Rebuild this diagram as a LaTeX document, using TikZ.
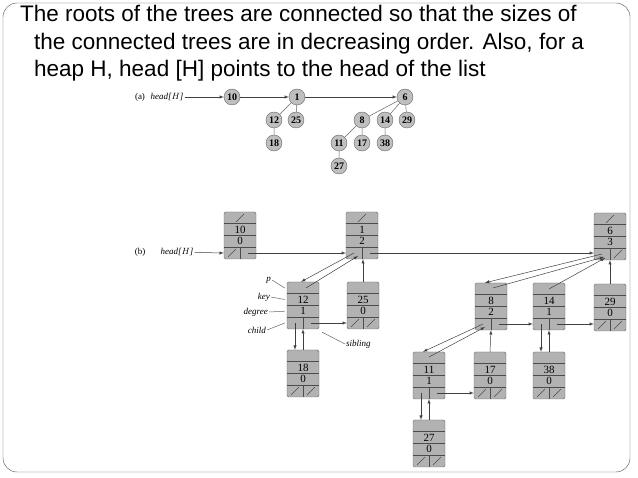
\documentclass[tikz,border=0pt]{standalone}
\usepackage{fontspec}
\setmainfont{Liberation Sans}
\newfontfamily\figfont{Liberation Serif}
\usetikzlibrary{arrows}

% one list cell: name, x, top, key, degree
\newcommand{\bnode}[5]{%
  \node[cell] (#1) at (#2,#3+23.5) {};
  \draw[cellline] (#2-16,#3+11.5) -- +(32,0) (#2-16,#3+23.5) -- +(32,0)
    (#2-16,#3+35) -- +(32,0) (#2,#3+35) -- (#2,#3+47);
  \node[val] (#1k) at (#2,#3+17.5) {#4};
  \node[val] (#1d) at (#2,#3+29.2) {#5};
  \coordinate (#1p) at (#2,#3+6);
  \coordinate (#1c) at (#2-8,#3+41);
  \coordinate (#1s) at (#2+8,#3+41);}
% nil pointer
\newcommand{\nil}[1]{\draw[cellline] ([shift={(-4,4)}]#1) -- ([shift={(4,-4)}]#1);}

\begin{document}
\begin{tikzpicture}[x=1pt,y=-1pt]
    \tikzstyle{circ} = [circle, draw=black!60, fill=black!25, inner sep=0pt, minimum size=16pt, font=\figfont\bfseries]
    \tikzstyle{cell} = [rectangle, rounded corners=1.5pt, minimum width=32pt, minimum height=47pt, draw=black!60, fill=black!30]
    \tikzstyle{cellline} = [draw=black!70, line width=0.5pt]
    \tikzstyle{val} = [inner sep=0pt, font=\figfont\fontsize{11}{11}\selectfont]
    \tikzstyle{lab} = [inner sep=1pt, font=\figfont\itshape\small]
    \tikzstyle{ptr} = [black!75, -latex, line width=0.5pt]
    \tikzstyle{edge} = [black!60, line width=0.5pt]

    \useasboundingbox (0,0) rectangle (638,478);
    \draw[black!70, rounded corners=14pt] (3,3) rectangle (630,472);

    % Titre
    \node (title) [anchor=north west, align=left, inner sep=0pt, font=\fontsize{22.5}{27.5}\selectfont] at (20,5)
      {The roots of the trees are connected so that the sizes of\\
       \hspace*{14pt}the connected trees are in decreasing order. Also, for a\\
       \hspace*{14pt}heap H, head [H] points to the head of the list};

    % (a) arbres
    \node (la) [lab, font=\figfont\small] at (140,97) {(a)};
    \node (ha) [lab] at (167,97) {head[$H$]};
    \node (a10) [circ] at (232,97) {10};
    \node (a1) [circ] at (297,97) {1};
    \node (a6) [circ] at (405,97) {6};
    \node (a12) [circ] at (274,120) {12};
    \node (a25) [circ] at (296,120) {25};
    \node (a18) [circ] at (274,143) {18};
    \node (a8) [circ] at (362,120) {8};
    \node (a14) [circ] at (385,120) {14};
    \node (a29) [circ] at (407,120) {29};
    \node (a11) [circ] at (339,143) {11};
    \node (a17) [circ] at (362,143) {17};
    \node (a38) [circ] at (385,143) {38};
    \node (a27) [circ] at (339,166) {27};
    \draw [ptr] (ha) -- (a10);
    \draw [ptr] (a10) -- (a1);
    \draw [ptr] (a1) -- (a6);
    \draw [edge] (a1) -- (a12) (a1) -- (a25) (a12) -- (a18);
    \draw [edge] (a6) -- (a8) (a6) -- (a14) (a6) -- (a29);
    \draw [edge] (a8) -- (a11) (a8) -- (a17) (a14) -- (a38) (a11) -- (a27);

    % (b) listes
    \node (lb) [lab, font=\figfont\small] at (140,252) {(b)};
    \node (hb) [lab] at (177,252) {head[$H$]};
    \bnode{n10}{240}{212}{10}{0}
    \bnode{n1}{362}{212}{1}{2}
    \bnode{n6}{610}{213}{6}{3}
    \bnode{n12}{303}{282}{12}{1}
    \bnode{n25}{363}{282}{25}{0}
    \bnode{n18}{303}{350}{18}{0}
    \bnode{n8}{491}{283}{8}{2}
    \bnode{n14}{549}{283}{14}{1}
    \bnode{n29}{610}{284}{29}{0}
    \bnode{n11}{429}{352}{11}{1}
    \bnode{n17}{490}{352}{17}{0}
    \bnode{n38}{549}{352}{38}{0}
    \bnode{n27}{429}{420}{27}{0}
    \foreach \n in {n10,n1,n6} {\nil{\n p}}
    \foreach \n in {n10,n25,n18,n29,n17,n38,n27} {\nil{\n c}}
    \foreach \n in {n6,n25,n18,n29,n17,n38,n27} {\nil{\n s}}

    % Fleches
    \draw [ptr] (hb) -- (n10.west |- n10s);
    \draw [ptr] (n10s) -- (n1.west |- n10s);
    \draw [ptr] (n1s) -- (n6.west |- n1s);
    \draw [ptr] (n1c) -- ([xshift=-2pt]n12.north);
    \draw [ptr] ([shift={(3,0)}]n12p) -- ([shift={(4,3)}]n1c);
    \draw [ptr] (n25.north) -- (n25.north |- n1.south);
    \draw [ptr] (n12s) -- (n25.west |- n12s);
    \draw [ptr] (n12c) -- (n12c |- n18.north);
    \draw [ptr] (n18.north) -- (n12.south);
    \draw [ptr] (n6c) -- ([xshift=-6pt]n8.north);
    \draw [ptr] ([shift={(2,-1)}]n8p) -- ([shift={(2,3)}]n6c);
    \draw [ptr] (n14p) -- ([shift={(3,4)}]n6c);
    \draw [ptr] (n29.north) -- (n6.south);
    \draw [ptr] (n8s) -- (n14.west |- n8s);
    \draw [ptr] (n14s) -- (n29.west |- n14s);
    \draw [ptr] (n8c) -- ([xshift=-6pt]n11.north);
    \draw [ptr] ([shift={(0,-1)}]n11p) -- ([shift={(2,3)}]n8c);
    \draw [ptr] (n17.north) -- (n8.south);
    \draw [ptr] (n14c) -- (n14c |- n38.north);
    \draw [ptr] (n38.north) -- (n14.south);
    \draw [ptr] (n11c) -- (n11c |- n27.north);
    \draw [ptr] (n27.north) -- (n11.south);
    \draw [ptr] (n11s) -- (n17.west |- n11s);

    % Annotations
    \node (lp) [lab, anchor=east] at (272,280) {p};
    \node (lk) [lab, anchor=east] at (271,297) {key};
    \node (ld) [lab, anchor=east] at (269,312) {degree};
    \node (lc) [lab, anchor=east] at (267,330) {child};
    \node (ls) [lab, anchor=west] at (345,344) {sibling};
    \draw [edge] (lp.east) -- ([xshift=-2pt]n12.north west |- n12p);
    \draw [edge] (lk.east) -- ([xshift=-2pt]n12.west |- n12k);
    \draw [edge] (ld.east) -- ([xshift=-2pt]n12.west |- n12d);
    \draw [edge] (lc.east) -- ([xshift=-2pt]n12.west |- n12c);
    \draw [edge] (ls.west) -- ([shift={(3,3)}]n12.south east);
\end{tikzpicture}
\end{document}
